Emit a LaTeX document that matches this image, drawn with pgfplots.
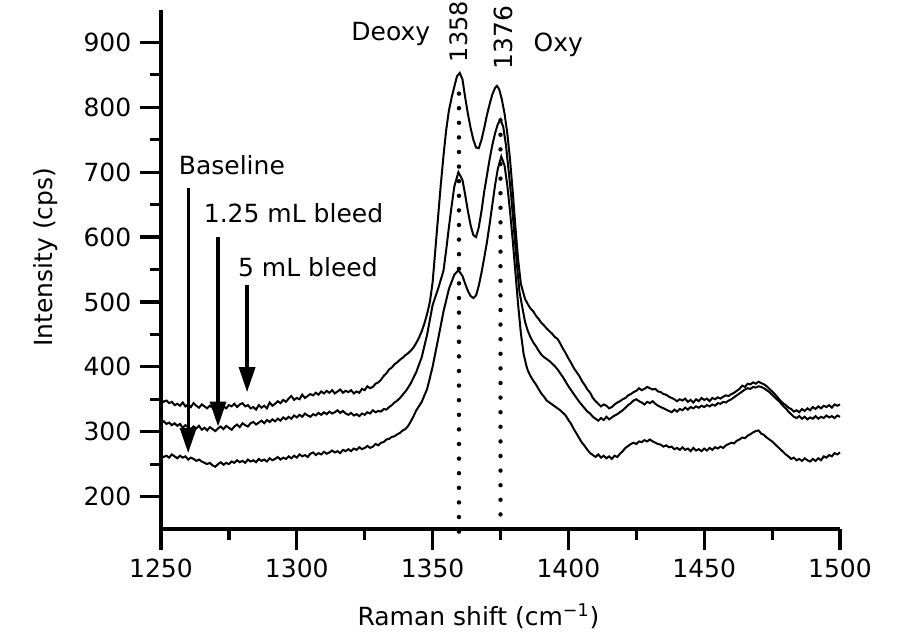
\documentclass[border=0pt]{standalone}
\usepackage{fontspec}
\setmainfont{DejaVu Sans}
\usepackage{pgfplots}
\usepackage{pgfplotstable}
\pgfplotsset{compat=1.18}
\usetikzlibrary{arrows.meta}

\pgfplotstableread{
x y
1250 350
1251 346
1252 348
1253 344
1254 346
1255 341
1256 343
1257 340
1258 345
1259 339
1260 342
1261 338
1262 344
1263 340
1264 337
1265 342
1266 339
1267 336
1268 340
1269 337
1270 342
1271 338
1272 343
1273 339
1274 336
1275 341
1276 339
1277 343
1278 338
1279 342
1280 344
1281 339
1282 341
1283 336
1284 338
1285 334
1286 341
1287 337
1288 340
1289 336
1290 345
1291 340
1292 343
1293 347
1294 344
1295 349
1296 346
1297 351
1298 355
1299 349
1300 352
1301 350
1302 357
1303 352
1304 355
1305 358
1306 356
1307 360
1308 357
1309 362
1310 359
1311 363
1312 360
1313 364
1314 359
1315 362
1316 365
1317 360
1318 363
1319 361
1320 364
1321 359
1322 362
1323 360
1324 366
1325 364
1326 370
1327 367
1328 369
1329 374
1330 376
1331 380
1332 386
1333 390
1334 396
1335 399
1336 404
1337 407
1338 411
1339 414
1340 418
1341 421
1342 425
1343 430
1344 437
1345 445
1346 455
1347 467
1348 482
1349 500
1350 530
1351 580
1352 630
1353 680
1354 725
1355 765
1356 795
1357 815
1358 832
1359 848
1360 853
1361 843
1362 815
1363 790
1364 768
1365 750
1366 738
1367 737
1368 750
1369 768
1370 788
1371 805
1372 820
1373 830
1373.7 833
1374.5 828
1375.5 812
1376.5 790
1377.5 760
1378.5 720
1379.5 670
1380.5 615
1381.5 565
1382.5 528
1384 505
1385 497
1386 490
1387 486
1388 479
1389 474
1390 468
1391 464
1392 459
1393 455
1394 451
1395 446
1396 443
1397 436
1398 428
1399 421
1400 413
1401 406
1402 398
1403 392
1404 386
1405 378
1406 372
1407 365
1408 360
1409 352
1410 347
1411 343
1412 339
1413 342
1414 340
1415 336
1416 338
1417 342
1418 345
1419 347
1420 350
1421 352
1422 356
1423 358
1424 361
1425 363
1426 367
1427 364
1428 366
1429 369
1430 367
1431 365
1432 366
1433 362
1434 361
1435 358
1436 357
1437 354
1438 352
1439 350
1440 347
1441 350
1442 348
1443 351
1444 346
1445 349
1446 345
1447 350
1448 347
1449 352
1450 349
1451 351
1452 347
1453 352
1454 350
1455 353
1456 351
1457 354
1458 356
1459 355
1460 358
1461 360
1462 363
1463 366
1464 371
1465 369
1466 374
1467 373
1468 376
1469 374
1470 377
1471 375
1472 373
1473 370
1474 366
1475 362
1476 358
1477 353
1478 348
1479 344
1480 341
1481 337
1482 335
1483 331
1484 333
1485 330
1486 335
1487 332
1488 336
1489 333
1490 338
1491 335
1492 339
1493 336
1494 340
1495 338
1496 341
1497 337
1498 342
1499 340
1500 342
}\topdata

\pgfplotstableread{
x y
1250 313
1251 316
1252 312
1253 314
1254 310
1255 313
1256 309
1257 312
1258 306
1259 310
1260 307
1261 304
1262 308
1263 305
1264 309
1265 303
1266 306
1267 302
1268 307
1269 304
1270 301
1271 305
1272 308
1273 304
1274 309
1275 306
1276 303
1277 308
1278 311
1279 307
1280 313
1281 310
1282 308
1283 313
1284 315
1285 311
1286 314
1287 317
1288 313
1289 318
1290 315
1291 319
1292 316
1293 320
1294 317
1295 322
1296 319
1297 323
1298 320
1299 325
1300 322
1301 326
1302 323
1303 328
1304 325
1305 323
1306 327
1307 325
1308 329
1309 326
1310 330
1311 327
1312 331
1313 328
1314 330
1315 333
1316 329
1317 332
1318 328
1319 326
1320 329
1321 325
1322 327
1323 324
1324 328
1325 326
1326 330
1327 328
1328 333
1329 330
1330 332
1331 331
1332 335
1333 334
1334 338
1335 341
1336 345
1337 348
1338 352
1339 357
1340 362
1341 368
1342 375
1344 392
1346 415
1348 450
1350 495
1352 520
1354 548
1355 580
1356 615
1357 648
1358 678
1359.5 700
1361 688
1362 665
1363 640
1364 618
1365 603
1366 600
1367 615
1368 640
1369 670
1370 695
1371 720
1372 742
1373 760
1374 774
1375 781
1376 770
1377 742
1378 702
1379 660
1380 610
1381 560
1382 515
1384 470
1385 456
1386 446
1387 438
1388 432
1389 425
1390 419
1391 415
1392 412
1393 409
1394 405
1395 401
1396 396
1397 390
1398 384
1399 377
1400 370
1401 364
1402 358
1403 352
1404 346
1405 341
1406 336
1407 331
1408 328
1409 323
1410 320
1411 317
1412 321
1413 318
1414 323
1415 319
1416 322
1417 325
1418 327
1419 330
1420 333
1421 337
1422 341
1423 344
1424 348
1425 350
1426 347
1427 345
1428 342
1429 346
1430 344
1431 347
1432 343
1433 340
1434 338
1435 336
1436 334
1437 332
1438 330
1439 334
1440 331
1441 335
1442 333
1443 337
1444 334
1445 338
1446 336
1447 339
1448 337
1449 340
1450 338
1451 341
1452 339
1453 342
1454 340
1455 344
1456 343
1457 346
1458 345
1459 348
1460 350
1461 353
1462 356
1463 359
1464 362
1465 365
1466 367
1467 366
1468 369
1469 368
1470 370
1471 369
1472 367
1473 364
1474 361
1475 357
1476 353
1477 349
1478 345
1479 340
1480 336
1481 331
1482 327
1483 323
1484 321
1485 324
1486 320
1487 323
1488 319
1489 322
1490 320
1491 324
1492 320
1493 323
1494 321
1495 325
1496 322
1497 324
1498 321
1499 325
1500 323
}\middata

\pgfplotstableread{
x y
1250 264
1251 261
1252 263
1253 260
1254 265
1255 262
1256 259
1257 263
1258 260
1259 262
1260 257
1261 260
1262 258
1263 255
1264 257
1265 254
1266 252
1267 250
1268 252
1269 248
1270 246
1271 250
1272 253
1273 249
1274 252
1275 250
1276 254
1277 252
1278 256
1279 253
1280 255
1281 252
1282 257
1283 254
1284 256
1285 253
1286 258
1287 255
1288 257
1289 254
1290 259
1291 256
1292 258
1293 261
1294 257
1295 260
1296 258
1297 262
1298 259
1299 263
1300 260
1301 265
1302 262
1303 264
1304 261
1305 266
1306 268
1307 264
1308 267
1309 265
1310 269
1311 266
1312 268
1313 271
1314 268
1315 270
1316 267
1317 272
1318 270
1319 273
1320 270
1321 274
1322 272
1323 276
1324 273
1325 275
1326 278
1327 275
1328 277
1329 281
1330 279
1331 283
1332 284
1333 288
1334 289
1335 292
1336 293
1337 296
1338 298
1339 302
1340 304
1341 309
1342 316
1343 324
1344 333
1346 346
1348 366
1350 400
1352 442
1354 485
1356 520
1358 542
1359.5 549
1361 540
1362 528
1363 517
1364 509
1365 506
1366 510
1367 525
1368 545
1369 568
1370 592
1371 620
1372 650
1373 680
1374 705
1375.3 724
1376.5 710
1377.5 680
1378.5 640
1379.5 595
1380.5 545
1381.5 495
1382.5 452
1383.5 420
1384.5 402
1385 395
1386 386
1387 379
1388 373
1389 366
1390 359
1391 354
1392 348
1393 345
1394 342
1395 339
1396 336
1397 333
1398 329
1399 325
1400 318
1401 312
1402 304
1403 297
1404 290
1405 283
1406 278
1407 272
1408 267
1409 264
1410 261
1411 265
1412 260
1413 263
1414 259
1415 262
1416 258
1417 263
1418 261
1419 266
1420 270
1421 275
1422 278
1423 281
1424 283
1425 281
1426 285
1427 284
1428 287
1429 285
1430 288
1431 285
1432 283
1433 281
1434 280
1435 277
1436 279
1437 276
1438 277
1439 273
1440 275
1441 272
1442 276
1443 272
1444 274
1445 270
1446 275
1447 271
1448 273
1449 270
1450 274
1451 271
1452 275
1453 272
1454 276
1455 274
1456 277
1457 275
1458 279
1459 281
1460 283
1461 282
1462 286
1463 288
1464 291
1465 290
1466 294
1467 296
1468 299
1469 301
1470 302
1471 297
1472 295
1473 291
1474 288
1475 285
1476 281
1477 277
1478 273
1479 269
1480 265
1481 262
1482 258
1483 260
1484 256
1485 258
1486 255
1487 259
1488 256
1489 254
1490 258
1491 255
1492 259
1493 256
1494 262
1495 260
1496 264
1497 262
1498 267
1499 265
1500 268
}\botdata

\begin{document}
\fontsize{12.5pt}{15pt}\selectfont
\begin{tikzpicture}
\useasboundingbox (-80.5pt,-54pt) rectangle (373.5pt,264.5pt);
\begin{axis}[
  at={(0,0)}, anchor=south west,
  scale only axis,
  width=339.5pt, height=259.5pt,
  xmin=1250, xmax=1500, ymin=150, ymax=950,
  axis x line*=bottom, axis y line*=left,
  axis line style={line width=1.7pt},
  xtick={1250,1300,...,1500},
  ytick={200,300,...,900},
  minor x tick num=1, minor y tick num=1,
  tick align=outside,
  major tick length=10.5pt, minor tick length=5.5pt,
  tick style={black, line width=1.6pt},
  /pgf/number format/assume math mode=true,
  /pgf/number format/1000 sep={},
  tick label style={font=\fontsize{12.5pt}{15pt}\selectfont},
  xlabel={Raman shift (cm\textsuperscript{−1})},
  ylabel={Intensity (cps)},
  every axis x label/.style={at={(axis description cs:0.4676,-0.1857)}, anchor=base, font=\fontsize{12.5pt}{15pt}\selectfont},
  every axis y label/.style={at={(axis description cs:-0.1605,0.524)}, rotate=90, anchor=base, font=\fontsize{12.5pt}{15pt}\selectfont},
  clip=false,
]
\addplot[black, line width=2.2pt, line cap=round, dash pattern=on 0pt off 7.3pt] coordinates {(1359.7,146) (1359.7,822)};
\addplot[black, line width=2.2pt, line cap=round, dash pattern=on 0pt off 7.3pt] coordinates {(1375,150) (1375,800)};
\addplot[black, line width=1pt] table {\topdata};
\addplot[black, line width=1pt] table {\middata};
\addplot[black, line width=1pt] table {\botdata};

\draw[line width=1.6pt, -{Triangle[width=8pt,length=12.5pt]}] (axis cs:1260,676) -- (axis cs:1260,267);
\draw[line width=1.6pt, -{Triangle[width=8pt,length=12.5pt]}] (axis cs:1271,600) -- (axis cs:1271,308);
\draw[line width=1.6pt, -{Triangle[width=8pt,length=12.5pt]}] (axis cs:1281.7,526) -- (axis cs:1281.7,361);

\node[anchor=base, inner sep=0pt] at (axis cs:1276.1,695.8) {Baseline};
\node[anchor=base, inner sep=0pt] at (axis cs:1298.8,622.3) {1.25 mL bleed};
\node[anchor=base, inner sep=0pt] at (axis cs:1304.1,539) {5 mL bleed};
\node[anchor=base, inner sep=0pt] at (axis cs:1334.6,902.4) {Deoxy};
\node[anchor=base, inner sep=0pt] at (axis cs:1396.3,885.4) {Oxy};
\node[anchor=west, rotate=90, inner sep=0pt, font=\fontsize{12pt}{14pt}\selectfont] at (axis cs:1359.7,869) {1358};
\node[anchor=west, rotate=90, inner sep=0pt] at (axis cs:1375.9,857.7) {1376};
\end{axis}
\end{tikzpicture}
\end{document}
